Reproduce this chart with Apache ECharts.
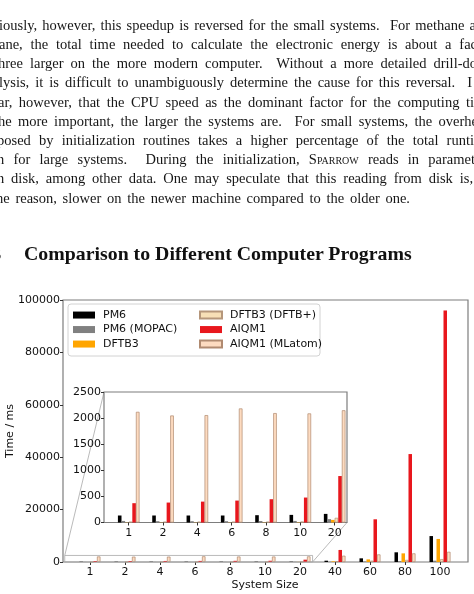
<!DOCTYPE html>
<html>
<head>
<meta charset="utf-8">
<script src="https://cdn.jsdelivr.net/npm/echarts@6/dist/echarts.min.js"></script>
<style>
  html, body { margin:0; padding:0; background:#fff; }
  body { width:474px; height:594px; overflow:hidden; position:relative; }
  #chart { position:absolute; left:0; top:0; width:474px; height:594px; }
  .ln { position:absolute; white-space:pre; font-family:"Liberation Serif", serif; font-size:14.5px; line-height:19.2px; color:#161616; }
  .sc { font-variant:small-caps; }
  .hd { position:absolute; white-space:pre; font-family:"Liberation Serif", serif; font-weight:bold; font-size:18.5px; line-height:20px; color:#111; }
</style>
</head>
<body>
<div id="chart"></div>
<div class="ln" data-r="476" style="left:-1px;top:15.8px">iously, however, this speedup is reversed for the small systems.  For methane a</div>
<div class="ln" data-r="477" style="left:-1px;top:35px">ane, the total time needed to calculate the electronic energy is about a fac</div>
<div class="ln" data-r="477" style="left:-2px;top:54.2px">hree larger on the more modern computer.  Without a more detailed drill-do</div>
<div class="ln" data-r="472" style="left:-1px;top:73.4px">lysis, it is difficult to unambiguously determine the cause for this reversal.  I</div>
<div class="ln" data-r="474" style="left:-2px;top:92.6px">ar, however, that the CPU speed as the dominant factor for the computing ti</div>
<div class="ln" data-r="478" style="left:-2px;top:111.8px">he more important, the larger the systems are.  For small systems, the overhe</div>
<div class="ln" data-r="474" style="left:-3px;top:131px">posed by initialization routines takes a higher percentage of the total runti</div>
<div class="ln" data-r="475" style="left:-3px;top:150.2px">n for large systems.  During the initialization, <span class="sc">Sparrow</span> reads in paramet</div>
<div class="ln" data-r="473" style="left:-3px;top:169.4px">n disk, among other data. One may speculate that this reading from disk is,</div>
<div class="ln" data-r="410" style="left:-4px;top:188.6px">he reason, slower on the newer machine compared to the older one.</div>
<div class="hd" style="left:-8px;top:244px">3</div>
<div class="hd" id="head" data-r="412" style="left:24px;top:244px">Comparison to Different Computer Programs</div>
<script>
// ---------- data ----------
const categories = ['1', '2', '4', '6', '8', '10', '20', '40', '60', '80', '100'];
const seriesNames = ['PM6', 'PM6 (MOPAC)', 'DFTB3', 'DFTB3 (DFTB+)', 'AIQM1', 'AIQM1 (MLatom)'];
const pm6       = [134, 134, 134, 134, 140, 146, 165, 500, 1400, 3700, 9900];
const pm6Mopac  = [30, 25, 25, 25, 28, 30, 64, 100, 200, 350, 500];
const dftb3     = [4, 4, 4, 4, 5, 6, 50, 250, 1000, 3300, 8800];
const dftb3Plus = [15, 15, 15, 15, 15, 18, 90, 250, 500, 800, 1100];
const aiqm1     = [370, 382, 400, 420, 446, 478, 890, 4600, 16300, 41200, 96000];
const aiqm1Mlatom = [2120, 2050, 2057, 2185, 2096, 2090, 2150, 2400, 2900, 3300, 3900];
const mainYTicks = [0, 20000, 40000, 60000, 80000, 100000];
const insetYTicks = [0, 500, 1000, 1500, 2000, 2500];
const insetCount = 7;              // number of categories shown in the inset
const mainXRange = [-0.77, 10.8];  // x-limits of main plot in category units
const insetXRange = [-0.72, 6.36]; // x-limits of inset (and zoom box) in category units

// ---------- styles ----------
const valuesBySeries = [pm6, pm6Mopac, dftb3, dftb3Plus, aiqm1, aiqm1Mlatom];
const styles = [
  { color: '#000000' },
  { color: '#808080' },
  { color: '#ffa500' },
  { color: '#f7dfb6', borderColor: '#b5967a', borderWidth: 0.7 },
  { color: '#e8171d' },
  { color: '#fddbc0', borderColor: '#b08a70', borderWidth: 0.7 }
];
const FONT = 'DejaVu Sans';
const txt = { fontFamily: FONT, fontSize: 11, color: '#111' };

// layout (pixels)
const main = { left: 63, right: 468, top: 300, bottom: 562 };
const inset = { left: 104, right: 347, top: 392, bottom: 522.5 };

function catGrid(box, range, n) {
  const unit = (box.right - box.left) / (range[1] - range[0]);
  return { left: box.left + (-0.5 - range[0]) * unit, top: box.top, width: n * unit, height: box.bottom - box.top,
    containLabel: false, outerBoundsMode: 'none' };
}
const frameGrid = (box) => ({ left: box.left, top: box.top, width: box.right - box.left, height: box.bottom - box.top,
  show: true, borderColor: '#7d7d7d', borderWidth: 1.2, backgroundColor: '#fff',
  containLabel: false, outerBoundsMode: 'none' });

const chart = echarts.init(document.getElementById('chart'), null, { renderer: 'canvas' });

const yAxisVisible = (ticks, gridIndex) => ({
  type: 'value', gridIndex, min: ticks[0], max: ticks[ticks.length - 1], interval: ticks[1] - ticks[0],
  axisLine: { show: false, onZero: false }, splitLine: { show: false },
  axisTick: { show: true, length: 3, lineStyle: { color: '#333' } },
  axisLabel: Object.assign({ margin: 3, formatter: v => String(v) }, txt)
});
const yAxisHidden = (ticks, gridIndex) => ({
  type: 'value', gridIndex, min: ticks[0], max: ticks[ticks.length - 1], show: false,
  axisLine: { onZero: false }
});
const catAxis = (cats, gridIndex, extra) => Object.assign({
  type: 'category', gridIndex, data: cats, boundaryGap: true,
  axisLine: { show: false, onZero: false }, splitLine: { show: false },
  axisTick: { show: true, alignWithLabel: true, length: 3, lineStyle: { color: '#333' } },
  axisLabel: Object.assign({ margin: 5, interval: 0 }, txt)
}, extra || {});

const series = [];
seriesNames.forEach((name, k) => {
  series.push({ name, type: 'bar', xAxisIndex: 1, yAxisIndex: 1, data: valuesBySeries[k],
    barWidth: 3.5, barGap: '0%', itemStyle: styles[k], z: 2 });
});
seriesNames.forEach((name, k) => {
  series.push({ name, type: 'bar', xAxisIndex: 3, yAxisIndex: 3, data: valuesBySeries[k].slice(0, insetCount),
    barWidth: 3.6, barGap: '0%', itemStyle: styles[k], z: 6 });
});

const option = {
  animation: false,
  grid: [
    frameGrid(main),
    Object.assign(catGrid(main, mainXRange, categories.length), { show: false }),
    Object.assign(frameGrid(inset), { z: 5 }),
    Object.assign(catGrid(inset, insetXRange, insetCount), { show: false, z: 5 })
  ],
  xAxis: [
    { type: 'value', gridIndex: 0, min: mainXRange[0], max: mainXRange[1], show: false, axisLine: { onZero: false } },
    catAxis(categories, 1, { name: 'System Size', nameLocation: 'middle', nameGap: 18,
      nameTextStyle: { fontFamily: FONT, fontSize: 11, color: '#111' } }),
    { type: 'value', gridIndex: 2, min: insetXRange[0], max: insetXRange[1], show: false, axisLine: { onZero: false } },
    catAxis(categories.slice(0, insetCount), 3, { z: 6 })
  ],
  yAxis: [
    Object.assign(yAxisVisible(mainYTicks, 0), { name: 'Time / ms', nameLocation: 'middle', nameGap: 47,
      nameMoveOverlap: false,
      nameTextStyle: { fontFamily: FONT, fontSize: 11, color: '#111' } }),
    yAxisHidden(mainYTicks, 1),
    Object.assign(yAxisVisible(insetYTicks, 2), { z: 6 }),
    yAxisHidden(insetYTicks, 3)
  ],
  legend: [
    { data: seriesNames.slice(0, 3), orient: 'vertical', left: 73, top: 307.8, padding: 0, itemGap: 0,
      itemWidth: 22, itemHeight: 7, icon: 'rect', z: 8,
      textStyle: { fontFamily: FONT, fontSize: 11, color: '#111', lineHeight: 14.5, padding: [0, 0, 0, 3] } },
    { data: seriesNames.slice(3), orient: 'vertical', left: 199, top: 307.8, padding: 0, itemGap: 0,
      itemWidth: 22, itemHeight: 7, icon: 'rect', z: 8,
      textStyle: { fontFamily: FONT, fontSize: 11, color: '#111', lineHeight: 14.5, padding: [0, 0, 0, 3] } }
  ],
  series
};
chart.setOption(option);

// zoom box + connector lines, positioned through the axes' own scales
const px = (i, v) => chart.convertToPixel({ xAxisIndex: i, yAxisIndex: i }, v);
const yTop = insetYTicks[insetYTicks.length - 1];
const boxTL = px(0, [insetXRange[0], yTop]);
const boxBR = px(0, [insetXRange[1], 0]);
const insTL = px(2, [insetXRange[0], yTop]);
const insBR = px(2, [insetXRange[1], 0]);
const lineStyle = { stroke: '#a8a8a8', lineWidth: 0.8, fill: null };
chart.setOption({
  graphic: [
    { type: 'rect', shape: { x: main.left + 5, y: main.top + 4, width: 252, height: 52, r: 3 },
      style: { fill: 'rgba(255,255,255,0.85)', stroke: '#d2d2d2', lineWidth: 1 }, z: 7 },
    { type: 'rect', shape: { x: boxTL[0], y: boxTL[1], width: boxBR[0] - boxTL[0], height: boxBR[1] - boxTL[1] },
      style: lineStyle, z: 3 },
    { type: 'line', shape: { x1: boxTL[0], y1: boxTL[1], x2: insTL[0], y2: insTL[1] }, style: lineStyle, z: 3 },
    { type: 'line', shape: { x1: boxBR[0], y1: boxBR[1], x2: insBR[0], y2: insBR[1] }, style: lineStyle, z: 3 }
  ]
});

// justify text lines to their measured right edges
document.querySelectorAll('.ln').forEach(el => {
  const left = parseFloat(el.style.left);
  const target = parseFloat(el.dataset.r) - left;
  const natural = el.getBoundingClientRect().width;
  const spaces = (el.textContent.match(/ /g) || []).length;
  if (spaces) el.style.wordSpacing = ((target - natural) / spaces) + 'px';
});
const head = document.getElementById('head');
const hw = head.getBoundingClientRect().width;
const hTarget = parseFloat(head.dataset.r) - parseFloat(head.style.left);
head.style.fontSize = (18.5 * hTarget / hw) + 'px';
head.style.top = (244 - (18.5 * hTarget / hw - 18.5) * 0.85) + 'px';
</script>
</body>
</html>
